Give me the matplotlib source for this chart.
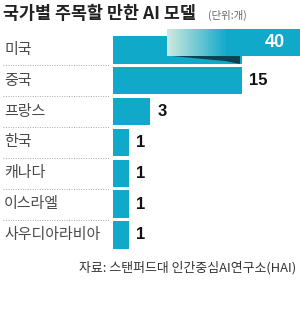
import numpy as np
import matplotlib
matplotlib.use("Agg")
import matplotlib.pyplot as plt
from matplotlib.patches import Rectangle, Polygon
from matplotlib.transforms import blended_transform_factory as blend

plt.rcParams['font.family'] = ['Noto Sans CJK KR', 'DejaVu Sans']

# data
countries = ['미국', '중국', '프랑스', '한국', '캐나다', '이스라엘', '사우디아라비아']
models = [40, 15, 3, 1, 1, 1, 1]
break_at = 15  # 40 bar is drawn broken, lower part stops here
title = '국가별 주목할 만한 AI 모델'
unit = '(단위:개)'
source = '자료: 스탠퍼드대 인간중심AI연구소(HAI)'

teal = '#10a9c9'
p = 0.77  # chart is not to scale, roughly power-compressed

W, H = 300, 322
fig = plt.figure(figsize=(W / 100, H / 100), dpi=100)
ax = fig.add_axes([113 / W, 1 - 250.4 / H, 185 / W, (250.4 - 34.5) / H])
ax.set_xscale('function', functions=(lambda v: np.sign(v) * np.abs(v) ** p,
                                     lambda v: np.sign(v) * np.abs(v) ** (1 / p)))
ax.set_xlim(0, 24)
ax.set_ylim(6.5, -0.5)
ax.axis('off')

y = np.arange(len(countries))
lens = [min(v, break_at) for v in models]
ax.barh(y, lens, height=0.89, left=0, color=teal, zorder=2)

# broken top bar (40)
tr = blend(ax.transAxes, ax.transData)
x0, xg = (167 - 113) / 185, (228 - 113) / 185
ytop, ybot = (28.7 - 49.9) / 30.85, (56 - 49.9) / 30.85
light = np.array(matplotlib.colors.to_rgb('#cde8de'))
dark = np.array(matplotlib.colors.to_rgb(teal))
n = 40
for k in range(n):
    t = k / (n - 1)
    c = light * (1 - t) + dark * t
    xa = x0 + (xg - x0) * k / n
    ax.add_patch(Rectangle((xa, ytop), (xg - x0) / n + 0.002, ybot - ytop,
                           transform=tr, color=c, lw=0, zorder=4, clip_on=False))
ax.add_patch(Rectangle((xg, ytop), 1 - xg + 0.01, ybot - ytop, transform=tr,
                       color=teal, lw=0, zorder=4, clip_on=False))
ax.add_patch(Polygon([((172 - 113) / 185, ybot), ((240 - 113) / 185, ybot),
                      ((240 - 113) / 185, (64 - 49.9) / 30.85),
                      ((225 - 113) / 185, (61 - 49.9) / 30.85)],
                     closed=True, transform=tr, color='#0b4250', lw=0, zorder=3))
ax.text((285 - 113) / 185, (42 - 49.9) / 30.85, str(models[0]), transform=tr,
        ha='right', va='center', color='white', fontsize=13, fontweight='bold',
        family=['Liberation Sans', 'DejaVu Sans'], zorder=5)

# value labels
for i in range(1, len(models)):
    ax.annotate(str(models[i]), (lens[i], y[i]), xytext=(5, 0),
                textcoords='offset points', ha='left', va='center',
                fontsize=12, fontweight='bold', color='#111111',
                family=['Liberation Sans', 'DejaVu Sans'])

# country labels and dotted separators
trf = blend(fig.transFigure, ax.transData)
for i, name in enumerate(countries):
    ax.text(4 / W, y[i], name, transform=trf, ha='left', va='center',
            fontsize=10.8, color='#4a4a4a', clip_on=False)
for i in range(len(countries) - 1):
    ax.plot([3 / W, 110 / W], [i + 0.5, i + 0.5], transform=trf, color='#a8a8a8',
            lw=0.7, ls=(0, (1, 1.5)), clip_on=False)

fig.text(3 / W, 1 - 14 / H, title, ha='left', va='center', fontsize=12.5,
         fontweight='bold', color='#222222')
fig.text(208 / W, 1 - 15 / H, unit, ha='left', va='center', fontsize=7.5,
         color='#666666')
fig.text(296 / W, 1 - 268 / H, source, ha='right', va='center', fontsize=9.3,
         color='#333333')

fig.savefig('out.png', dpi=100, facecolor='white')
